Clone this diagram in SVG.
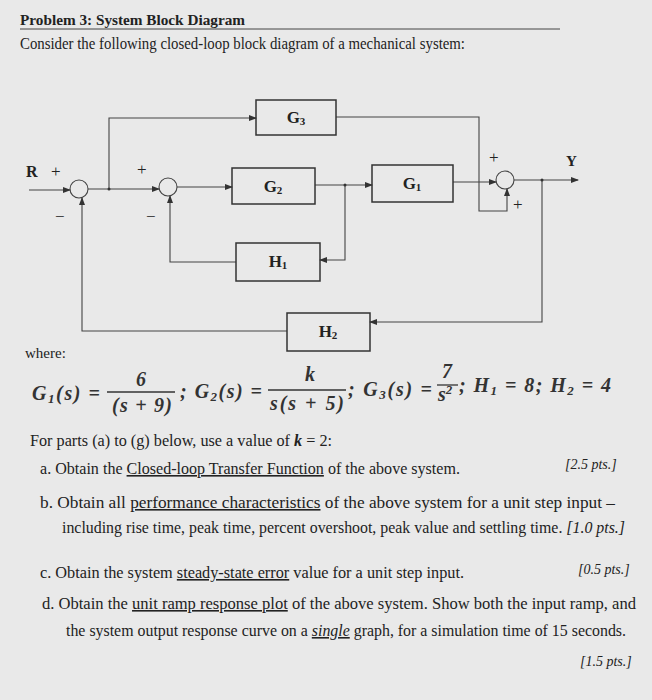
<svg xmlns="http://www.w3.org/2000/svg" width="652" height="700" viewBox="0 0 652 700">
<defs>
<marker id="ar" markerWidth="8" markerHeight="6" refX="7" refY="3" orient="auto" markerUnits="userSpaceOnUse"><path d="M0,0 L8,3 L0,6 z" fill="#333"/></marker>
<style>
.t{font-family:"Liberation Serif",serif;fill:#222}
.b{fill:none;stroke:#333;stroke-width:1.5}
.l{fill:none;stroke:#444;stroke-width:1.1}
.bl{font-family:"Liberation Serif",serif;font-weight:bold;font-size:17px;fill:#222;text-anchor:middle}
.m{font-family:"Liberation Serif",serif;font-style:italic;font-weight:bold;fill:#333}
</style>
</defs>
<rect width="652" height="700" fill="#e9e9e9"/>
<text class="t" x="20" y="25" font-size="15" font-weight="bold" textLength="225" lengthAdjust="spacingAndGlyphs">Problem 3: System Block Diagram</text>
<line x1="20" y1="29" x2="560" y2="29" stroke="#444" stroke-width="1"/>
<text class="t" x="20" y="49" font-size="16" textLength="445" lengthAdjust="spacingAndGlyphs">Consider the following closed-loop block diagram of a mechanical system:</text>
<g id="connectors">
<path class="l" d="M29,190 H70" marker-end="url(#ar)"/>
<path class="l" d="M88,189 H159" marker-end="url(#ar)"/>
<path class="l" d="M109,189 V118 H256" marker-end="url(#ar)"/>
<path class="l" d="M177,187 H232" marker-end="url(#ar)"/>
<path class="l" d="M315,185 H372" marker-end="url(#ar)"/>
<path class="l" d="M345,185 V260 H320" marker-end="url(#ar)"/>
<path class="l" d="M236,262 H170 V196" marker-end="url(#ar)"/>
<path class="l" d="M453,182 H496" marker-end="url(#ar)"/>
<path class="l" d="M336,117 H479 V211 H507 V189" marker-end="url(#ar)"/>
<path class="l" d="M514,180 H578" marker-end="url(#ar)"/>
<path class="l" d="M542,180 V322 H370" marker-end="url(#ar)"/>
<path class="l" d="M287,331 H82 V198" marker-end="url(#ar)"/>
<circle cx="109" cy="189" r="1.5" fill="#333"/>
<circle cx="345" cy="185" r="1.5" fill="#333"/>
<circle cx="542" cy="180" r="1.5" fill="#333"/>
</g>
<g id="sum1"><circle class="l" cx="79" cy="189" r="9"/></g>
<g id="sum2"><circle class="l" cx="168" cy="187" r="9"/></g>
<g id="sum3"><circle class="l" cx="505" cy="180" r="9"/></g>
<g id="G3"><rect class="b" x="256" y="100" width="80" height="35"/><text class="bl" x="296" y="123">G<tspan font-size="11" dy="2">3</tspan></text></g>
<g id="G2"><rect class="b" x="232" y="168" width="83" height="36"/><text class="bl" x="273" y="192">G<tspan font-size="11" dy="2">2</tspan></text></g>
<g id="G1"><rect class="b" x="372" y="165" width="81" height="37"/><text class="bl" x="412" y="189">G<tspan font-size="11" dy="2">1</tspan></text></g>
<g id="H1"><rect class="b" x="236" y="243" width="84" height="38"/><text class="bl" x="278" y="267">H<tspan font-size="11" dy="2">1</tspan></text></g>
<g id="H2"><rect class="b" x="287" y="313" width="83" height="38"/><text class="bl" x="328" y="337">H<tspan font-size="11" dy="2">2</tspan></text></g>
<g id="labels" class="t" font-size="17">
<text x="26" y="177" font-weight="bold" font-size="16">R</text><text x="51" y="177">+</text>
<text x="55" y="222">−</text>
<text x="137" y="175">+</text><text x="146" y="222">−</text>
<text x="489" y="163">+</text><text x="513" y="210">+</text>
<text x="566" y="166" font-weight="bold" font-size="15">Y</text>
</g>
<text class="t" x="25" y="358" font-size="15">where:</text>
<g font-size="20">
<text class="m" x="32" y="400" textLength="68">G<tspan font-size="13" dy="3">1</tspan><tspan dy="-3">(s) =</tspan></text>
<text class="m" x="141" y="386" font-style="normal" text-anchor="middle">6</text>
<line x1="107" y1="392" x2="175" y2="392" stroke="#333" stroke-width="1.3"/>
<text class="m" x="112" y="412" textLength="60">(s + 9)</text>
<text class="m" x="180" y="398" textLength="82">; G<tspan font-size="13" dy="3">2</tspan><tspan dy="-3">(s) =</tspan></text>
<text class="m" x="310" y="381" text-anchor="middle">k</text>
<line x1="268" y1="390" x2="346" y2="390" stroke="#333" stroke-width="1.3"/>
<text class="m" x="270" y="410" textLength="74">s(s + 5)</text>
<text class="m" x="348" y="396" textLength="84">; G<tspan font-size="13" dy="3">3</tspan><tspan dy="-3">(s) =</tspan></text>
<text class="m" x="447" y="378" font-style="normal" text-anchor="middle">7</text>
<line x1="437" y1="385" x2="458" y2="385" stroke="#333" stroke-width="1.3"/>
<text class="m" x="438" y="401">s<tspan font-size="13" dy="-7">2</tspan></text>
<text class="m" x="459" y="392" textLength="152">; H<tspan font-size="13" dy="3">1</tspan><tspan dy="-3"> = 8; H</tspan><tspan font-size="13" dy="3">2</tspan><tspan dy="-3"> = 4</tspan></text>
</g>
<g class="t" font-size="16">
<text x="30" y="446" textLength="302" lengthAdjust="spacingAndGlyphs">For parts (a) to (g) below, use a value of <tspan font-weight="bold" font-style="italic">k</tspan> = 2:</text>
<text x="40" y="474" textLength="420" lengthAdjust="spacingAndGlyphs">a.  Obtain the <tspan text-decoration="underline">Closed-loop Transfer Function</tspan> of the above system.</text>
<text x="565" y="469" font-style="italic" font-size="14">[2.5 pts.]</text>
<text x="40" y="508" textLength="575" lengthAdjust="spacingAndGlyphs">b.  Obtain all <tspan text-decoration="underline">performance characteristics</tspan> of the above system for a unit step input –</text>
<text x="62" y="533" textLength="563" lengthAdjust="spacingAndGlyphs">including rise time, peak time, percent overshoot, peak value and settling time.  <tspan font-style="italic">[1.0 pts.]</tspan></text>
<text x="40" y="578" textLength="424" lengthAdjust="spacingAndGlyphs">c.  Obtain the system <tspan text-decoration="underline">steady-state error</tspan> value for a unit step input.</text>
<text x="578" y="574" font-style="italic" font-size="14">[0.5 pts.]</text>
<text x="42" y="609" textLength="594" lengthAdjust="spacingAndGlyphs">d.  Obtain the <tspan text-decoration="underline">unit ramp response plot</tspan> of the above system. Show both the input ramp, and</text>
<text x="66" y="636" textLength="560" lengthAdjust="spacingAndGlyphs">the system output response curve on a <tspan font-style="italic" text-decoration="underline">single</tspan> graph, for a simulation time of 15 seconds.</text>
<text x="580" y="666" font-style="italic" font-size="14">[1.5 pts.]</text>
</g>
</svg>
